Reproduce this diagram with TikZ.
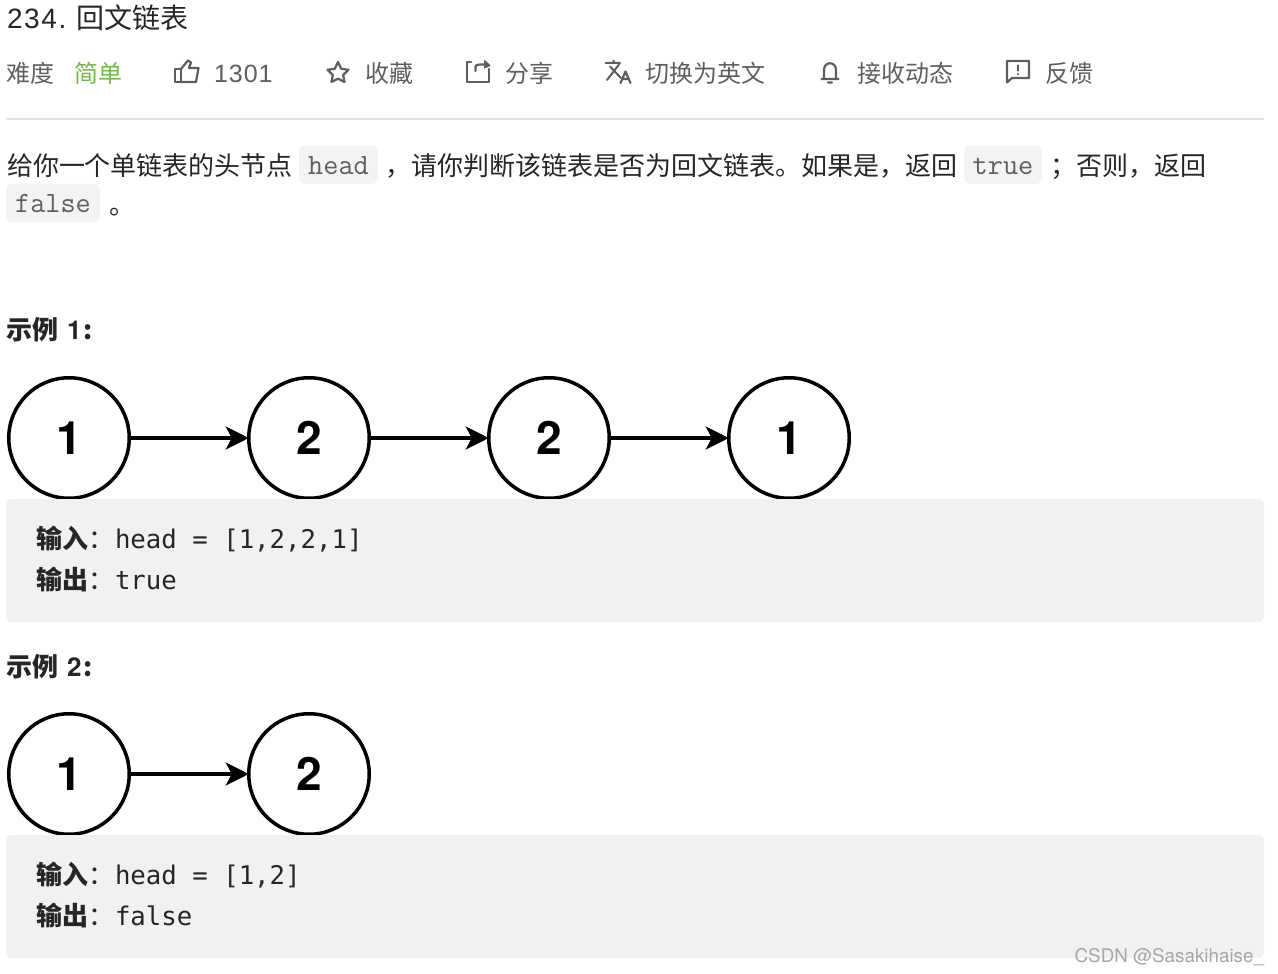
\documentclass[tikz,border=0pt]{standalone}
\usepackage{fontspec}
\setmainfont{Noto Sans CJK SC}
\newfontfamily\latinf{Liberation Sans}
\newfontfamily\digitf{TeX Gyre Heros}
\newfontfamily\titlef[LetterSpace=6]{Liberation Sans}
\newfontfamily\likef[LetterSpace=4]{Liberation Sans}
\newfontfamily\codef{DejaVu Sans Mono}
\usetikzlibrary{arrows.meta}
\usetikzlibrary{positioning}
\definecolor{inkdark}{HTML}{262626}
\definecolor{inkgray}{HTML}{5E5E5E}
\definecolor{rulegray}{HTML}{E4E4E4}
\definecolor{pillbg}{HTML}{F3F3F5}
\definecolor{codebg}{HTML}{F1F1F3}
\definecolor{easygreen}{HTML}{6FBB45}

\begin{document}
\begin{tikzpicture}[x=1pt,y=-1pt,inner sep=0pt,outer sep=0pt]
\tikzset{
    titletext/.style = {anchor=base west, text=inkdark, font=\fontsize{28}{32}\selectfont},
    metatext/.style = {anchor=base west, text=inkgray, font=\fontsize{24}{28}\selectfont},
    bodytext/.style = {anchor=base west, text=inkdark, font=\fontsize{26}{30}\selectfont},
    exampletext/.style = {anchor=base west, text=inkdark, font=\fontsize{26}{30}\selectfont\bfseries},
    inputtext/.style = {anchor=base west, text=inkdark, font=\fontsize{26}{30}\selectfont\bfseries},
    codetext/.style = {anchor=base west, text=inkdark, font=\fontsize{25.7}{30}\selectfont\codef},
    pillnode/.style = {fill=pillbg, rounded corners=6pt, minimum height=38.5pt, text=inkgray,
        text height=19pt, text depth=0pt, font=\fontsize{29.4}{32}\selectfont\ttfamily},
    codebox/.style = {fill=codebg, rounded corners=6pt, minimum width=1258pt, minimum height=123pt},
    listnode/.style = {circle, draw=black, line width=3.5pt, fill=white, minimum size=120.5pt,
        text=black, text height=32pt, text depth=0pt, font=\fontsize{46}{50}\selectfont\digitf\bfseries},
    edgen/.style = {line width=3.3pt, black, -{Stealth[length=23pt,width=23pt,inset=6pt]}},
    iconline/.style = {draw=inkgray, line width=2.2pt, line join=round, line cap=round}
}
\useasboundingbox (0,0) rectangle (1278,974);
\node[titletext] (title) at (7,29) {{\titlef\fontsize{28}{32}\selectfont 234.}};
\node[titletext] (titlecn) at (76,29) {回文链表};
\node[metatext] (difficulty) at (6,82) {难度};
\node[metatext, text=easygreen] (easy) at (74,82) {简单};
\node[metatext, font=\fontsize{25}{28}\selectfont\likef] (likes) at (214,82) {1301};
\node[metatext] (collect) at (365,82) {收藏};
\node[metatext] (share) at (505,82) {分享};
\node[metatext] (english) at (645,82) {切换为英文};
\node[metatext] (notify) at (857,82) {接收动态};
\node[metatext] (feedback) at (1045,82) {反馈};
\draw[draw=rulegray, line width=2pt] (6,119) -- (1264,119);

\draw[iconline] (175,69) rectangle (181,82);
\draw[iconline] (181,69) -- (188,60.5) -- (191,62.5) -- (189,68) -- (198.5,68) -- (196,82) -- (181,82);
\draw[iconline] (338,62) -- (341.2,68.8) -- (348.5,69.8) -- (343.2,75) -- (344.5,82) -- (338,78.7) -- (331.5,82) -- (332.8,75) -- (327.5,69.8) -- (334.8,68.8) -- cycle;
\draw[iconline] (471,62) -- (467,62) -- (467,82) -- (489,82) -- (489,69);
\draw[iconline] (475.5,71) -- (475.5,67) .. controls (475.5,65) and (477,64.5) .. (480,64.5) -- (484,64.5);
\draw[fill=inkgray, draw=inkgray, line width=1pt, line join=round] (484.5,60.5) -- (490,65.5) -- (484.5,68) -- cycle;
\draw[iconline, line width=2pt] (605.5,63) -- (620,63) (613.5,60.5) -- (613.5,63) (619,64.5) -- (607,80) (610,66.5) -- (621,78);
\draw[iconline, line width=2.2pt] (620.5,83) -- (625.5,71.5) -- (630.5,83) (622.5,79) -- (628.5,79);
\draw[iconline] (824,79) -- (824,70) .. controls (824,61) and (836,61) .. (836,70) -- (836,79) (821.5,79) -- (838.5,79) (828,82.5) -- (832,82.5);
\draw[iconline] (1007,61) -- (1029,61) -- (1029,78) -- (1012,78) -- (1007,82.5) -- cycle;
\draw[iconline] (1018,65.5) -- (1018,70.5) (1018,74) -- (1018,74.3);

\node[bodytext] (line1a) at (7,175) {给你一个单链表的头节点};
\node[pillnode, minimum width=79pt] (pillhead) at (338.5,164.5) {head};
\node[bodytext] (line1b) at (385,175) {，};
\node[bodytext] (line1c) at (411,175) {请你判断该链表是否为回文链表。如果是，返回};
\node[pillnode, minimum width=78pt] (pilltrue) at (1003,164.5) {true};
\node[bodytext] (line1d) at (1050,175) {；否则，返回};
\node[pillnode, minimum width=94pt] (pillfalse) at (53,203) {false};
\node[bodytext] (line2) at (109,214) {。};

\node[exampletext] (ex1) at (6,339) {示例\hspace{9pt}{\digitf\bfseries 1}\hspace{2pt}:};
\node[listnode] (a1) at (69,438) {1};
\node[listnode] (a2) at (309,438) {2};
\node[listnode] (a3) at (549,438) {2};
\node[listnode] (a4) at (789,438) {1};
\draw[edgen] (a1) -- (a2);
\draw[edgen] (a2) -- (a3);
\draw[edgen] (a3) -- (a4);
\node[codebox] (box1) at (635,560.5) {};
\node[inputtext] (in1) at (36.5,548) {输入\mdseries：};
\node[codetext] (in1code) at (115,548) {head = [1,2,2,1]};
\node[inputtext] (out1) at (36.5,589) {输出\mdseries：};
\node[codetext] (out1code) at (115,589) {true};

\node[exampletext] (ex2) at (6,676) {示例\hspace{9pt}{\digitf\bfseries 2}\hspace{2pt}:};
\node[listnode] (b1) at (69,774) {1};
\node[listnode] (b2) at (309,774) {2};
\draw[edgen] (b1) -- (b2);
\node[codebox] (box2) at (635,896.5) {};
\node[inputtext] (in2) at (36.5,884) {输入\mdseries：};
\node[codetext] (in2code) at (115,884) {head = [1,2]};
\node[inputtext] (out2) at (36.5,925) {输出\mdseries：};
\node[codetext] (out2code) at (115,925) {false};

\node[anchor=base east, text=black!35, font=\fontsize{18.8}{24}\selectfont\digitf] (mark) at (1264,962) {CSDN @Sasakihaise\_};
\end{tikzpicture}
\end{document}
